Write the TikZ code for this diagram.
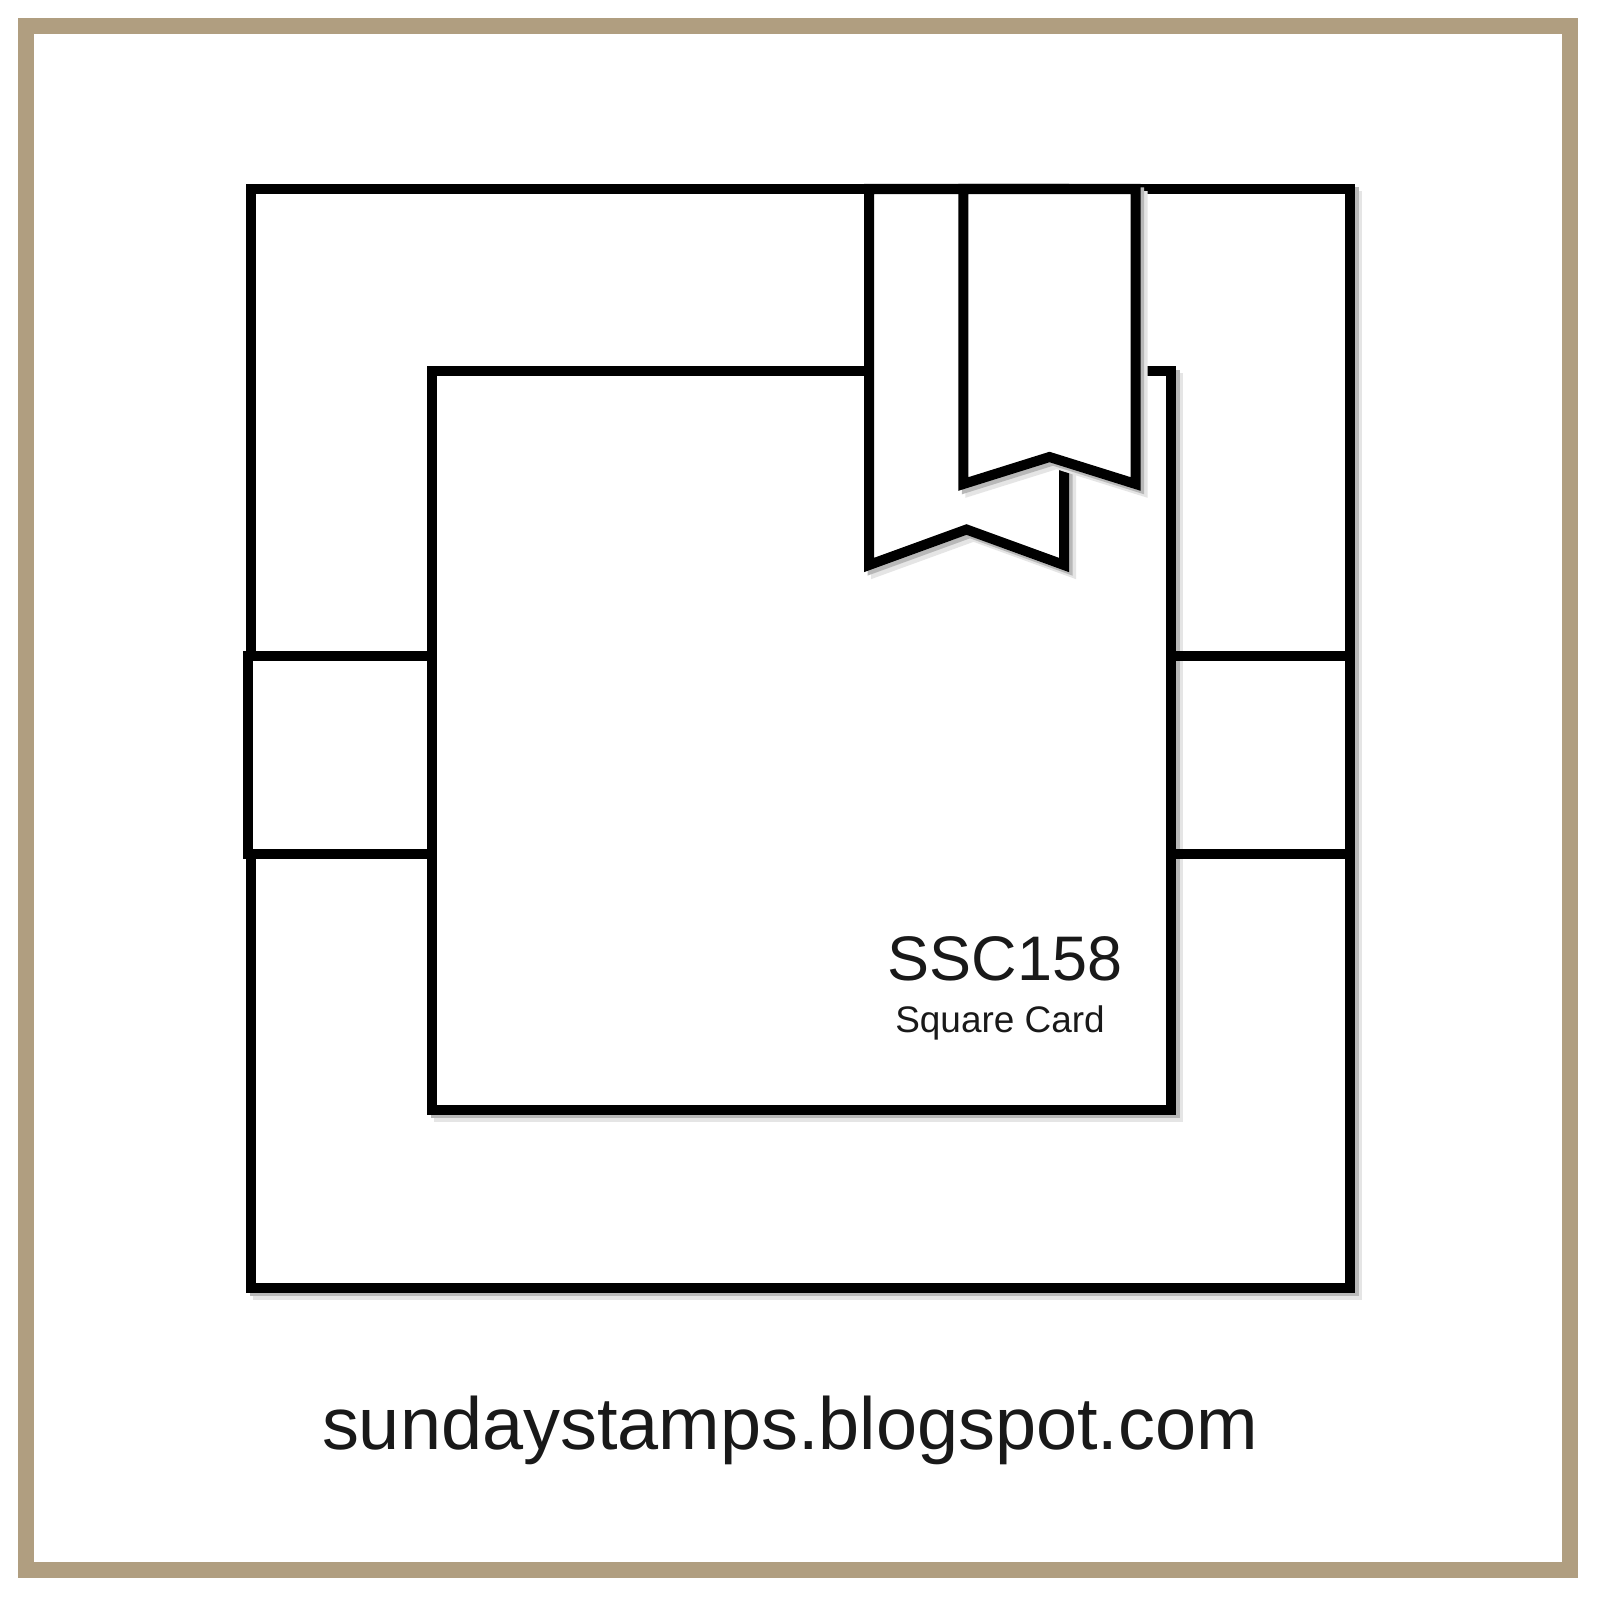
\documentclass[tikz,border=0pt]{standalone}
\usepackage{fontspec}
\setmainfont{Liberation Sans}
\definecolor{framegold}{HTML}{B09E80}
\tikzset{
  cardline/.style={draw=black, fill=white, line width=0.1cm},
  cardshadow/.style={
    preaction={fill=black!10, draw=black!10, line width=0.1cm, transform canvas={shift={(0.07cm,-0.07cm)}}},
    preaction={fill=black!28, draw=black!28, line width=0.1cm, transform canvas={shift={(0.035cm,-0.035cm)}}}},
  sketchtext/.style={text=black!90, anchor=base, inner sep=0pt}
}
\begin{document}
\begin{tikzpicture}[x=0.01cm,y=-0.01cm]
		\useasboundingbox (0,0) rectangle (1600,1600);
		\fill[white] (0,0) rectangle (1600,1600);
		\draw[framegold, line width=0.16cm] (26,26) rectangle (1570,1570);
		% card base
		\draw[cardline, cardshadow] (251,189) rectangle (1350,1287.5);
		% panel
		\draw[cardline, cardshadow] (432,371) rectangle (1171,1109.5);
		% bands
		\draw[cardline] (248,656) rectangle (432,853.5);
		\draw[cardline, fill=none] (1171,656) rectangle (1350,853.5);
		% banners
		\draw[cardline, cardshadow] (869,189) -- (869,565) -- (966.5,529.5) -- (1064,565) -- (1064,189) -- cycle;
		\draw[cardline, cardshadow] (963.3,189) -- (963.3,484) -- (1049.5,457) -- (1135.7,484) -- (1135.7,189) -- cycle;
		\node[sketchtext, font=\fontsize{17.9pt}{20pt}\selectfont] (code) at (1005,980) {SSC158};
		\node[sketchtext, font=\fontsize{10.5pt}{12pt}\selectfont] (kind) at (1000,1032) {Square Card};
		\node[sketchtext, font=\fontsize{21pt}{24pt}\selectfont] (blog) at (790,1449) {sundaystamps.blogspot.com};
\end{tikzpicture}
\end{document}
